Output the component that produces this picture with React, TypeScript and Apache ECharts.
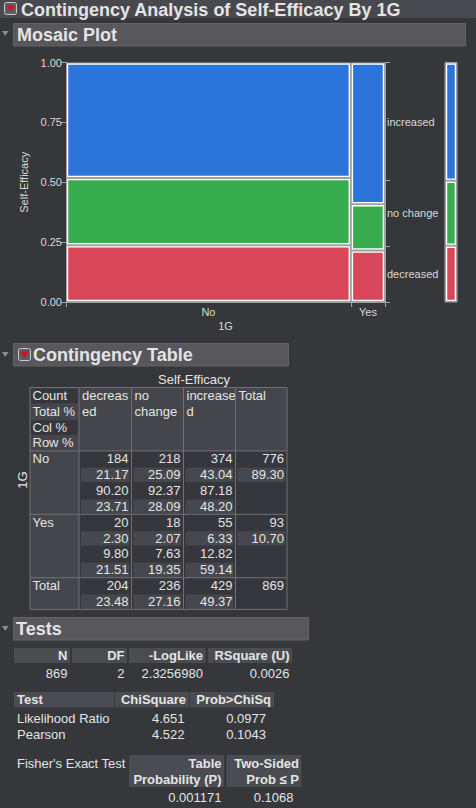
import React, { useRef, useEffect } from 'react'
import * as echarts from 'echarts'

const BG = '#35373b'
const FONT = '"Liberation Sans", Arial, sans-serif'

// 1G groups and Self-Efficacy levels
const groups = ['No', 'Yes']
const levels = ['decreased', 'no change', 'increased']
const levelHeaderLines = [['decreas', 'ed'], ['no', 'change'], ['increase', 'd']]
const levelColors = ['#d8475a', '#37ad4f', '#2b74d9']
const countsNo = [184, 218, 374]
const countsYes = [20, 18, 55]
const cellLabels = ['Count', 'Total %', 'Col %', 'Row %']

// Tests
const testHead1 = ['N', 'DF', '-LogLike', 'RSquare (U)']
const testRow1 = ['869', '2', '2.3256980', '0.0026']
const testHead2 = ['Test', 'ChiSquare', 'Prob>ChiSq']
const testNames = ['Likelihood Ratio', 'Pearson']
const chiSquare = ['4.651', '4.522']
const probChi = ['0.0977', '0.1043']
const fisherHead = [['Table', 'Probability (P)'], ['Two-Sided', 'Prob \u2264 P']]
const fisherRow = ['0.001171', '0.1068']

const rows = [countsNo, countsYes]
const rowTotals = rows.map((r) => r.reduce((a, b) => a + b, 0))
const colTotals = levels.map((_, j) => rows.reduce((a, r) => a + r[j], 0))
const grand = rowTotals.reduce((a, b) => a + b, 0)

function txt(x: number, y: number, s: string, o: any = {}) {
  return {
    type: 'text',
    x,
    y,
    silent: true,
    style: {
      text: s,
      fill: '#e4e4e4',
      font: `${o.bold ? 'bold ' : ''}${o.size || 13}px ${FONT}`,
      textAlign: o.align || 'left',
      textVerticalAlign: 'middle',
    },
    rotation: o.rotation || 0,
  }
}

function box(x: number, y: number, w: number, h: number, fill: string, stroke?: string) {
  return {
    type: 'rect',
    silent: true,
    shape: { x, y, width: w, height: h },
    style: { fill, stroke: stroke || null, lineWidth: stroke ? 1 : 0 },
  }
}

function arrow(y: number) {
  return {
    type: 'polygon',
    silent: true,
    shape: { points: [[2, y], [8.5, y], [5.25, y + 5]] },
    style: { fill: '#8d8d91' },
  }
}

function redIcon(x: number, y: number) {
  return [
    { type: 'rect', silent: true, shape: { x, y, width: 12, height: 12, r: 2 }, style: { fill: '#5c5c61', stroke: '#c9c9cc', lineWidth: 1 } },
    { type: 'polygon', silent: true, shape: { points: [[x + 2, y + 3], [x + 10, y + 3], [x + 6, y + 9.5]] }, style: { fill: '#d4101e' } },
  ]
}

function pct(v: number, d: number) {
  return ((v / d) * 100).toFixed(2)
}

function buildGraphics() {
  const g: any[] = []
  // top title bar
  g.push(box(0, 0, 476, 18, '#48494e'))
  g.push(...redIcon(4.5, 2.5))
  g.push(txt(21, 9.5, 'Contingency Analysis of Self-Efficacy By 1G', { bold: true, size: 18 }))
  // mosaic header
  g.push(arrow(31))
  g.push(box(13.5, 23.5, 452, 22.5, '#57575c', '#626267'))
  g.push(txt(17, 35, 'Mosaic Plot', { bold: true, size: 18 }))
  // contingency header
  g.push(arrow(352))
  g.push(box(13.5, 343.5, 275, 22.5, '#57575c', '#626267'))
  g.push(...redIcon(18.5, 348.5))
  g.push(txt(33, 355, 'Contingency Table', { bold: true, size: 18 }))

  // contingency table
  const colX = [30, 79, 131.5, 183.5, 235.5, 287]
  const lh = 15.85
  const top = 387.5
  const rowStart = [top, top + 4 * lh, top + 8 * lh, top + 12 * lh]
  const bottom = top + 14 * lh
  g.push(txt(158, 379.5, 'Self-Efficacy'))
  g.push(box(colX[0], top, colX[5] - colX[0], bottom - top, '#45464b'))
  g.push(box(colX[1], rowStart[1], colX[5] - colX[1], bottom - rowStart[1], '#36373c'))
  // left header col strips
  for (let i = 0; i < 4; i += 2) g.push(box(colX[0] + 1, top + i * lh + 1, colX[1] - colX[0] - 2, lh - 1, '#36373c'))
  cellLabels.forEach((s, i) => g.push(txt(32.5, top + i * lh + lh / 2, s)))
  levelHeaderLines.forEach((ls, j) => ls.forEach((s, i) => g.push(txt(colX[j + 1] + 3, top + i * lh + lh / 2, s))))
  g.push(txt(colX[4] + 3, top + lh / 2, 'Total'))

  const block = (r: number, col: number, vals: string[]) => {
    vals.forEach((s, i) => {
      const y = rowStart[r] + i * lh
      if (i % 2 === 1) g.push(box(colX[col] + 2, y + 1, colX[col + 1] - colX[col] - 4, lh - 1.5, '#47484d'))
      g.push(txt(colX[col + 1] - 3, y + lh / 2, s, { align: 'right' }))
    })
  }
  rows.forEach((r, i) => {
    g.push(txt(32.5, rowStart[i + 1] + lh / 2, groups[i]))
    r.forEach((v, j) => block(i + 1, j + 1, [String(v), pct(v, grand), pct(v, colTotals[j]), pct(v, rowTotals[i])]))
    block(i + 1, 4, [String(rowTotals[i]), pct(rowTotals[i], grand)])
  })
  g.push(txt(32.5, rowStart[3] + lh / 2, 'Total'))
  colTotals.forEach((v, j) => block(3, j + 1, [String(v), pct(v, grand)]))
  block(3, 4, [String(grand)])
  // grid lines
  const lc = '#707176'
  colX.forEach((x) => g.push({ type: 'line', silent: true, shape: { x1: x, y1: top, x2: x, y2: bottom }, style: { stroke: lc, lineWidth: 1 } }))
  ;[top, ...rowStart.slice(1), bottom].forEach((y) => g.push({ type: 'line', silent: true, shape: { x1: colX[0], y1: y, x2: colX[5], y2: y }, style: { stroke: lc, lineWidth: 1 } }))
  g.push(txt(22, 480, '1G', { rotation: Math.PI / 2, align: 'center' }))

  // tests header
  g.push(arrow(626))
  g.push(box(13.5, 617.5, 295, 22.5, '#57575c', '#626267'))
  g.push(txt(16, 629, 'Tests', { bold: true, size: 18 }))

  const hc = '#4b4c52'
  const t1 = [[14, 70], [72, 127], [129, 205.5], [208, 292]]
  t1.forEach(([a, b], i) => {
    g.push(box(a, 648, b - a, 15, hc))
    g.push(txt(b - 2.5, 655.5, testHead1[i], { bold: true, align: 'right' }))
    g.push(txt(b - 2.5, 673, testRow1[i], { align: 'right' }))
  })
  const t2 = [[14, 114], [115, 189], [190, 274]]
  t2.forEach(([a, b], i) => {
    g.push(box(a, 692, b - a, 15.5, hc))
    g.push(txt(i === 0 ? 17 : b - 3, 699.5, testHead2[i], { bold: true, align: i === 0 ? 'left' : 'right' }))
  })
  testNames.forEach((s, i) => {
    const y = 718.5 + i * 16
    g.push(txt(17, y, s))
    g.push(txt(184.5, y, chiSquare[i], { align: 'right' }))
    g.push(txt(266, y, probChi[i], { align: 'right' }))
  })
  g.push(txt(17, 763.5, "Fisher's Exact Test"))
  const t3 = [[129, 224], [226.5, 301.5]]
  t3.forEach(([a, b], i) => {
    g.push(box(a, 755, b - a, 32, hc))
    fisherHead[i].forEach((s, k) => g.push(txt(b - 2.5, 763.5 + k * 16, s, { bold: true, align: 'right' })))
  })
  g.push(txt(221.5, 797.5, fisherRow[0], { align: 'right' }))
  g.push(txt(293.5, 797.5, fisherRow[1], { align: 'right' }))
  return g
}

function mosaicData() {
  const cells: number[][] = []
  let x0 = 0
  rows.forEach((r, i) => {
    const x1 = x0 + rowTotals[i] / grand
    let y0 = 0
    r.forEach((v, j) => {
      const y1 = y0 + v / rowTotals[i]
      cells.push([x0, x1, y0, y1, j])
      y0 = y1
    })
    x0 = x1
  })
  return cells
}

function marginData() {
  const cells: number[][] = []
  let y0 = 0
  colTotals.forEach((v, j) => {
    const y1 = y0 + v / grand
    cells.push([0, 1, y0, y1, j])
    y0 = y1
  })
  return cells
}

function rectRender(inset: number) {
  return (params: any, api: any) => {
    const a = api.coord([api.value(0), api.value(2)])
    const b = api.coord([api.value(1), api.value(3)])
    const k = api.value(4)
    return {
      type: 'rect',
      shape: { x: a[0] + inset, y: b[1] + inset, width: b[0] - a[0] - 2 * inset, height: a[1] - b[1] - 2 * inset },
      style: { fill: levelColors[k], stroke: '#ffffff', lineWidth: 1.3 },
    }
  }
}

function App() {
  const chartRef = useRef<HTMLDivElement>(null)

  useEffect(() => {
    document.body.style.margin = '0'
    document.body.style.background = BG
    const chart = echarts.init(chartRef.current, null, { renderer: 'svg' })

    const cells = mosaicData()
    const margins = marginData()
    const xBounds = [0, rowTotals[0] / grand, 1]
    const xMids = [xBounds[0] + xBounds[1], xBounds[1] + xBounds[2]].map((v) => v / 2)
    const yBounds = [0]
    colTotals.forEach((v) => yBounds.push(yBounds[yBounds.length - 1] + v / grand))
    const yMids = levels.map((_, j) => (yBounds[j] + yBounds[j + 1]) / 2)
    const nearest = (arr: number[], v: number) => {
      let best = 0
      arr.forEach((m, i) => { if (Math.abs(m - v) < Math.abs(arr[best] - v)) best = i })
      return best
    }
    const axisGray = '#a2a2a6'
    const labelStyle = { color: '#d9d9d9', fontSize: 11, fontFamily: FONT }

    const option = {
      animation: false,
      backgroundColor: BG,
      textStyle: { fontFamily: FONT },
      grid: [
        { left: 66, top: 62.5, width: 319, height: 239.5, show: true, backgroundColor: '#a0a0a0', borderWidth: 0 },
        { left: 445, top: 62.5, width: 12, height: 239.5, show: true, backgroundColor: '#a0a0a0', borderColor: '#a0a0a0', borderWidth: 1 },
      ],
      xAxis: [
        {
          type: 'value', gridIndex: 0, min: 0, max: 1,
          name: '1G', nameLocation: 'middle', nameGap: 18,
          nameTextStyle: { color: '#d9d9d9', fontSize: 11 },
          axisLine: { show: true, lineStyle: { color: axisGray } },
          axisTick: { show: true, length: 5, lineStyle: { color: axisGray }, customValues: xBounds },
          axisLabel: { ...labelStyle, margin: 4, customValues: xMids, formatter: (v: number) => groups[nearest(xMids, v)] },
          splitLine: { show: false },
        },
        { type: 'value', gridIndex: 1, min: 0, max: 1, show: false },
      ],
      yAxis: [
        {
          type: 'value', gridIndex: 0, min: 0, max: 1, interval: 0.25,
          name: 'Self-Efficacy', nameLocation: 'middle', nameGap: 36,
          nameTextStyle: { color: '#d9d9d9', fontSize: 11 },
          axisLine: { show: true, lineStyle: { color: axisGray } },
          axisTick: { show: true, length: 5, lineStyle: { color: axisGray } },
          axisLabel: { ...labelStyle, margin: 4, formatter: (v: number) => v.toFixed(2) },
          splitLine: { show: false },
        },
        {
          type: 'value', gridIndex: 0, position: 'right', min: 0, max: 1,
          axisLine: { show: true, lineStyle: { color: axisGray } },
          axisTick: { show: true, length: 5, lineStyle: { color: axisGray }, customValues: yBounds },
          axisLabel: { ...labelStyle, margin: 2, customValues: yMids, formatter: (v: number) => levels[nearest(yMids, v)] },
          splitLine: { show: false },
        },
        { type: 'value', gridIndex: 1, min: 0, max: 1, show: false },
      ],
      series: [
        { type: 'custom', xAxisIndex: 0, yAxisIndex: 0, renderItem: rectRender(1.6), data: cells, silent: true },
        { type: 'custom', xAxisIndex: 1, yAxisIndex: 2, renderItem: rectRender(1.6), data: margins, silent: true },
      ],
      graphic: { elements: buildGraphics() },
    }

    chart.setOption(option)
    return () => {
      chart.dispose()
    }
  }, [])

  return <div ref={chartRef} style={{ width: 476, height: 808 }}></div>
}

export default App
